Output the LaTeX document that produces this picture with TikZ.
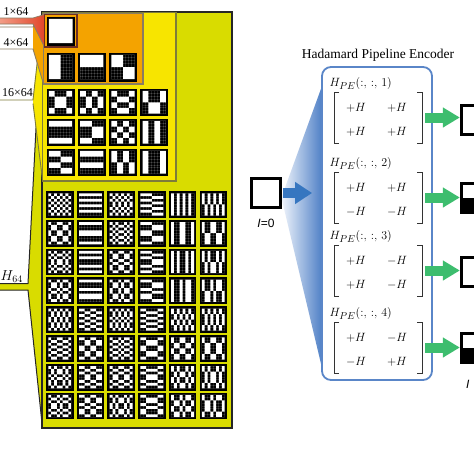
\documentclass[tikz,border=0pt]{standalone}
\usepackage{fontspec}
\newfontfamily\tnr{Liberation Serif}
\newfontfamily\arl{Liberation Sans}
\usetikzlibrary{arrows.meta}
\DeclareMathSizes{13}{13}{10}{7}
\DeclareMathSizes{12.5}{12.5}{9.5}{7}
\DeclareMathSizes{14}{14}{10}{7}
\definecolor{hlime}{HTML}{D9DC00}
\definecolor{hyellow}{HTML}{F7E500}
\definecolor{horange}{HTML}{F4A300}
\definecolor{hred}{HTML}{E2452A}
\definecolor{hredl}{HTML}{F3A08A}
\definecolor{olivel}{HTML}{7E7C3A}
\definecolor{greyb}{HTML}{8A7C62}
\definecolor{hbrown}{HTML}{6E2E22}
\definecolor{boxblue}{HTML}{5A86C8}
\definecolor{arrblue}{HTML}{3676C0}
\definecolor{arrgreen}{HTML}{3DBD6E}
\definecolor{wedgel}{HTML}{EEF3FB}
\definecolor{wedger}{HTML}{4F80C6}
\def\fr{2.3}
\newcommand\hb[2]{mod(floor(#1/4)*floor(#2/4)+mod(floor(#1/2),2)*mod(floor(#2/2),2)+mod(#1,2)*mod(#2,2),2)}
\newcommand\hcell[6]{%
  \pgfmathsetmacro\cx{#1}\pgfmathsetmacro\cy{#2}%
  \pgfmathsetmacro\iw{#3-2*\fr}\pgfmathsetmacro\ih{#4-2*\fr}%
  \pgfmathsetmacro\pw{\iw/8}\pgfmathsetmacro\ph{\ih/8}%
  \fill[black] (\cx,\cy) rectangle ++(#3,#4);
  \fill[white,even odd rule] ({\cx+\fr},{\cy+\fr}) rectangle ++(\iw,\ih)
    foreach \k in {0,...,7}{
      ({\cx+\fr+\k*\pw},{\cy+\fr}) rectangle ++({\hb{#5}{\k}*\pw},\ih)
      ({\cx+\fr},{\cy+\fr+\k*\ph}) rectangle ++(\iw,{\hb{#6}{\k}*\ph})
    };
}
\tikzset{
  lab/.style={anchor=base east, inner sep=0pt, font=\tnr\fontsize{12}{14}\selectfont},
  sq/.style={draw=black, line width=2.3pt, fill=white, minimum size=29pt, inner sep=0pt},
  halfsq/.style={sq, path picture={\fill[black] (path picture bounding box.west) rectangle (path picture bounding box.south east);}},
  mat/.style={minimum width=88pt, minimum height=51pt, inner sep=0pt, outer sep=0pt},
  bracket/.style={draw=black!80, line width=0.8pt},
  ent/.style={anchor=base, inner sep=0pt, font=\fontsize{12.5}{14}\selectfont},
  hpe/.style={anchor=base west, inner sep=0pt, font=\fontsize{13}{15}\selectfont},
  garrow/.style={draw=arrgreen, line width=10pt, -{Triangle[length=17pt,width=19pt]}, shorten <=3pt, shorten >=0.5pt},
  barrow/.style={draw=arrblue, line width=10pt, -{Triangle[length=17pt,width=21pt]}, shorten <=1.3pt, shorten >=9pt},
}
\begin{document}
\begin{tikzpicture}[x=1pt,y=-1pt]
\useasboundingbox (0,0) rectangle (474,474);
\fill[white] (0,0) rectangle (474,474);

% ---- H64 callout and region
\fill[hlime] (-2,283.5) -- (28,283.5) -- (42,12) -- (42.5,428) -- (28,290) -- (-2,290) -- cycle;
\draw[black!85, line width=1pt] (-2,283.5) -- (28,283.5) -- (42,12);
\draw[black!85, line width=1pt] (-2,290) -- (28,290) -- (42.5,428);
\draw[fill=hlime, draw=black!85, line width=1.4pt] (42,12) rectangle (232,428);

% ---- 16x64 callout and region
\fill[hyellow] (33,100) -- (42.7,13) -- (42.7,181) -- (33,103.5) -- cycle;
\draw[olivel, line width=0.9pt] (-2,100) -- (33,100) -- (42.7,13);
\draw[olivel, line width=0.9pt] (33,103.5) -- (42.7,181);
\draw[fill=hyellow, draw=olivel, line width=1.2pt] (42.7,12.7) rectangle (176,181);

% ---- 4x64 callout and region
\fill[horange] (33,27) -- (43.5,13.5) -- (43.5,84) -- (33,49) -- cycle;
\draw[greyb, line width=0.9pt] (-2,27) -- (33,27) -- (43.5,13.5);
\draw[greyb, line width=0.9pt] (-2,49) -- (33,49) -- (43.5,84);
\draw[fill=horange, draw=greyb, line width=1.3pt] (43.5,13.5) rectangle (143,84);

% ---- 1x64 callout and region
\shade[left color=hredl, right color=hred] (-2,18) -- (33,18) -- (44.5,14.5) -- (44.5,47) -- (33,24) -- (-2,24) -- cycle;
\draw[greyb, line width=0.7pt] (-2,18) -- (33,18) -- (44.5,14.5);
\draw[greyb, line width=0.7pt] (-2,24) -- (33,24) -- (44.5,47);
\draw[draw=hbrown, line width=1.5pt] (44.5,14.5) rectangle (77,47);

% ---- patterns
\hcell{46.5}{16.5}{28.5}{29}{0}{0}
\foreach \u/\v [count=\i from 0] in {4/0,0/4,4/4}{\hcell{46.5+\i*31.25}{52.5}{28}{29}{\u}{\v}}
\foreach \u/\v [count=\i from 0] in {6/6,2/6,6/2,6/4,0/6,4/6,2/2,2/0,4/2,0/2,2/4,6/0}{%
  \pgfmathtruncatemacro\ci{mod(\i,4)}\pgfmathtruncatemacro\ri{floor(\i/4)}%
  \hcell{46.5+\ci*31.25}{88.5+\ri*30}{28}{27.5}{\u}{\v}}
\foreach \u/\v [count=\i from 0] in {
  1/1,3/3,5/5,7/7,1/3,3/1,5/7,7/5,
  0/1,0/3,0/5,0/7,2/1,2/3,2/5,2/7,
  1/5,5/1,3/7,7/3,1/7,7/1,3/5,5/3,
  4/1,4/3,4/5,4/7,6/1,6/3,6/5,6/7,
  1/0,3/0,5/0,7/0,1/2,3/2,5/2,7/2,
  1/4,3/4,5/4,7/4,1/6,3/6,5/6,7/6}{%
  \pgfmathtruncatemacro\ci{floor(\i/8)}\pgfmathtruncatemacro\ri{mod(\i,8)}%
  \hcell{46+\ci*30.7}{191+\ri*28.8}{27.5}{26.8}{\u}{\v}}

% ---- labels
\node[lab] (l1) at (28.5,15.5) {1×64};
\node[lab] (l4) at (28.5,46) {4×64};
\node[lab] (l16) at (33,96.5) {16×64};
\node[anchor=base east, inner sep=0pt, font=\fontsize{14}{16}\selectfont] (l64) at (23,280.5) {$H_{64}$};

% ---- encoder
\shade[left color=wedgel, right color=wedger] (322,86) -- (282,196) -- (282,200) -- (322,368) -- cycle;
\node[draw=boxblue, line width=1.8pt, rounded corners=9pt, fill=white, minimum width=110pt, minimum height=313pt, inner sep=0pt] (pe) at (377,223.5) {};
\node[anchor=base, inner sep=0pt, font=\tnr\fontsize{13.5}{16}\selectfont] (title) at (378,58) {Hadamard Pipeline Encoder};

\node[sq] (i0) at (266,193) {};
\node[anchor=base, inner sep=0pt, font=\arl\fontsize{12}{14}\selectfont] (i0l) at (266,227) {\textit{I}=0};
\draw[barrow] (i0.east) -- (i0.east -| pe.west);

\foreach \n/\T/\a/\b/\c/\d in {1/92/+/+/+/+, 2/172/+/+/-/-, 3/245/+/-/+/-, 4/322/+/-/-/+}{
  \node[hpe] (h\n) at (329.5,\T-5.5) {$H_{PE}(:,\,:,\,\n)$};
  \node[mat] (m\n) at (378,\T+25.5) {};
  \draw[bracket] ([xshift=5pt]m\n.north west) -- (m\n.north west) -- (m\n.south west) -- ([xshift=5pt]m\n.south west);
  \draw[bracket] ([xshift=-5pt]m\n.north east) -- (m\n.north east) -- (m\n.south east) -- ([xshift=-5pt]m\n.south east);
  \node[ent] (e\n a) at ([xshift=-22pt,yshift=6pt]m\n.center) {$\a H$};
  \node[ent] (e\n b) at ([xshift=19pt,yshift=6pt]m\n.center) {$\b H$};
  \node[ent] (e\n c) at ([xshift=-22pt,yshift=-18pt]m\n.center) {$\c H$};
  \node[ent] (e\n d) at ([xshift=19pt,yshift=-18pt]m\n.center) {$\d H$};
}
\node[sq] (o1) at (476,120) {};
\node[halfsq] (o2) at (476,198) {};
\node[sq] (o3) at (476,272) {};
\node[halfsq] (o4) at (476,348) {};
\foreach \n in {1,2,3,4}{\draw[garrow] (m\n.east) -- (m\n.east -| o\n.west);}
\node[anchor=base west, inner sep=0pt, font=\arl\itshape\fontsize{12}{14}\selectfont] (ol) at (466,388) {I};
\end{tikzpicture}
\end{document}
